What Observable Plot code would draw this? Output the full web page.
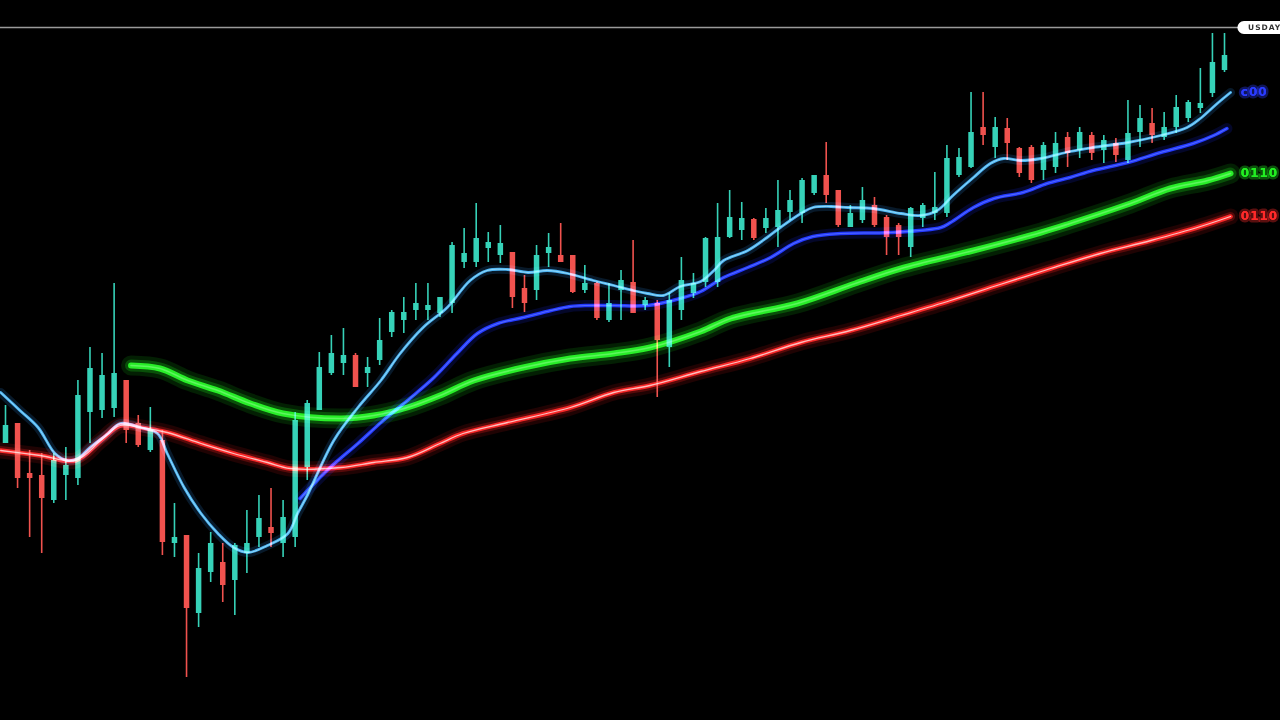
<!DOCTYPE html>
<html><head><meta charset="utf-8">
<script src="https://cdn.jsdelivr.net/npm/d3@7"></script>
<script src="https://cdn.jsdelivr.net/npm/@observablehq/plot@0.6"></script>
<style>html,body{margin:0;padding:0;background:#000;overflow:hidden}#chart svg{display:block}</style>
</head><body><div id="chart"></div>
<script>
// Candle OHLC (price points), one per bar index 0..101
const open  = [277,297,247,245,220,245,242,308,310,312,340,297,270,280,177,185,107,148,158,140,167,183,193,177,183,253,310,347,357,365,347,360,388,400,410,410,407,417,458,458,472,465,468,432,430,467,465,465,430,437,400,430,438,415,417,373,410,427,438,438,483,490,501,492,493,508,507,527,545,530,493,500,515,503,495,473,502,507,507,545,553,593,573,592,572,573,550,553,583,570,585,570,577,560,588,597,583,593,602,612,627,650];
const high  = [315,297,270,267,267,273,340,373,367,437,340,305,313,290,217,185,167,188,177,177,210,225,232,220,308,320,368,385,392,367,363,402,410,423,437,437,423,478,492,517,488,495,468,445,475,487,497,465,455,438,437,450,480,423,420,427,463,447,483,517,530,518,502,512,540,530,542,545,578,530,515,533,523,505,497,513,517,548,575,572,628,628,603,602,573,575,578,588,588,593,588,585,582,620,615,612,608,625,620,652,687,687];
const low   = [277,232,183,167,217,220,235,277,302,303,277,273,268,165,163,43,93,138,118,105,147,173,173,163,173,240,310,345,345,333,333,355,383,387,400,400,403,407,452,453,458,457,412,408,420,453,458,427,427,400,398,400,407,410,323,353,400,422,433,433,482,480,480,487,473,500,497,525,517,493,493,497,493,465,465,463,493,500,503,543,552,575,562,560,543,537,540,547,553,562,560,557,558,557,573,577,580,587,598,607,623,648];
const close = [295,242,242,222,260,255,325,352,345,347,290,275,290,178,183,112,152,177,135,175,177,202,187,203,300,317,353,367,365,333,353,380,408,408,417,415,423,475,467,482,478,477,423,417,465,473,458,428,437,402,417,440,407,420,380,420,440,437,482,483,503,502,482,502,510,520,540,545,525,495,507,520,495,483,483,512,515,513,562,563,588,585,593,577,547,540,575,577,567,588,567,580,565,587,602,585,593,613,618,617,658,665];

// Moving averages: [bar index, price]
const fastMA = [[-0.4,328],[1.2,310],[2.7,293],[4.1,267],[5.1,260],[6.0,262],[7.0,273],[8.5,287],[9.5,297],[11.2,293],[12.6,287],[13.4,267],[14.8,233],[16.2,207],[17.6,187],[18.9,173],[20.1,168],[21.7,175],[23.4,187],[24.2,207],[25.0,225],[27.2,280],[29.2,313],[31.1,340],[32.7,367],[34.6,393],[36.6,413],[38.5,440],[39.9,450],[41.6,451],[43.3,448],[44.9,450],[46.6,447],[48.7,440],[50.4,435],[52.0,430],[53.2,427],[54.5,425],[55.9,434],[57.6,439],[58.7,450],[59.5,460],[61.5,470],[63.1,483],[64.2,493],[65.9,507],[66.9,513],[68.4,514],[69.8,513],[71.9,512],[74.2,507],[75.8,505],[77.2,510],[78.5,525],[80.2,543],[81.6,557],[82.7,562],[84.1,560],[85.8,562],[88.2,569],[90.1,573],[93.0,578],[95.7,585],[97.9,593],[99.0,602],[100.4,617],[101.5,628]];
const midMA = [[24.4,222],[26.9,253],[29.2,277],[31.3,300],[33.6,323],[35.5,343],[37.4,367],[39.1,387],[40.8,397],[42.9,403],[45.2,410],[46.8,414],[48.2,415],[50.4,415],[53.2,415],[55.9,422],[57.6,429],[59.5,443],[61.5,453],[63.4,463],[65.3,477],[66.9,484],[69.2,487],[73.3,488],[77.5,493],[78.3,498],[80.2,513],[81.9,522],[84.3,528],[86.3,537],[88.2,543],[90.1,550],[93.0,558],[95.7,568],[98.4,577],[100.1,585],[101.2,592]];
const slowMA = [[10.4,355],[12.8,352],[15.1,340],[17.6,330],[20.3,317],[23.0,307],[27.8,302],[30.5,305],[33.3,313],[36.0,325],[38.8,340],[42.9,353],[46.8,362],[50.4,367],[53.4,373],[57.6,389],[60.1,402],[65.6,417],[70.4,437],[74.2,452],[80.2,470],[85.8,488],[88.2,497],[93.2,517],[96.5,532],[99.6,540],[101.5,547]];
const longMA = [[-0.4,270],[2.9,265],[5.8,260],[7.9,280],[9.5,295],[11.2,293],[13.4,288],[16.2,277],[18.9,267],[21.7,258],[23.6,252],[27.8,253],[30.5,258],[33.3,263],[36.0,277],[37.9,287],[41.6,298],[46.8,313],[50.4,328],[53.4,335],[57.6,349],[61.7,362],[65.9,378],[70.0,390],[74.2,405],[78.3,420],[82.4,436],[86.6,452],[90.7,467],[94.9,480],[99.0,494],[101.5,504]];

// Right-hand price tags
const tagText  = ["USDAY", "c00", "0110", "0110"];
const tagPrice = [693, 628, 547, 504];
const tagColor = ["#333333", "#2a3cff", "#22ee22", "#ff2a2a"];
const topLine = 693;

const candles = open.map((o, i) => ({i, open: o, high: high[i], low: low[i], close: close[i], up: close[i] >= o}));
const TEAL = "#36d2b8", RED = "#f0524e";

function glow(data, layers) {
  return layers.map(l => Plot.line(data, {x: d => d[0], y: d => d[1], curve: "catmull-rom",
    stroke: l.c, strokeWidth: l.w, strokeOpacity: l.o, strokeLinecap: "round", mixBlendMode: "screen"}));
}

const tags = tagText.map((t, k) => ({t, p: tagPrice[k], c: tagColor[k], k}));
const lastIdx = candles.length - 1;

const chart = Plot.plot({
  width: 1280, height: 720,
  marginTop: 0, marginBottom: 0, marginLeft: 0, marginRight: 0,
  style: {background: "#000", overflow: "hidden"},
  x: {domain: [0, 101], range: [5, 1224], axis: null},
  y: {domain: [0, 720], axis: null},
  marks: [
    Plot.ruleY([topLine], {stroke: "#9a9a9a", strokeWidth: 1.3}),
    // wicks
    Plot.ruleX(candles, {x: "i", y1: "low", y2: "high", stroke: d => d.up ? TEAL : RED, strokeWidth: 1.6}),
    // bodies
    Plot.ruleX(candles, {x: "i", y1: "open", y2: "close", stroke: d => d.up ? TEAL : RED, strokeWidth: 5.5}),
    // long (red) MA with glow
    ...glow(longMA, [{c: "#ff1a1a", w: 16, o: 0.12}, {c: "#ff1a1a", w: 9, o: 0.25}, {c: "#ff2020", w: 4.5, o: 0.95}, {c: "#ffd0d0", w: 1.3, o: 0.85}]),
    // slow (green) MA with glow
    ...glow(slowMA, [{c: "#1aff1a", w: 20, o: 0.12}, {c: "#1aff1a", w: 12, o: 0.22}, {c: "#20e620", w: 6, o: 1}, {c: "#8cff8c", w: 1.6, o: 0.45}]),
    // mid (blue) MA
    ...glow(midMA, [{c: "#1a2cff", w: 11, o: 0.16}, {c: "#1f33ff", w: 3.5, o: 1}, {c: "#5566ff", w: 1.1, o: 0.6}]),
    // fast (light blue) MA
    ...glow(fastMA, [{c: "#2f9cff", w: 9, o: 0.16}, {c: "#45aaf0", w: 2.8, o: 1}, {c: "#b8ecff", w: 0.9, o: 0.6}]),
    // top white pill
    Plot.ruleY([topLine], {x1: lastIdx + 1.65, x2: lastIdx + 8, stroke: "#ffffff", strokeWidth: 13, strokeLinecap: "round"}),
    // tag glows
    Plot.text(tags.filter(d => d.k > 0), {x: lastIdx + 1.35, y: "p", text: "t", textAnchor: "start", fill: "c", stroke: "c", strokeWidth: 5, strokeOpacity: 0.35, fontSize: 12, fontWeight: "bold", fontFamily: "DejaVu Sans"}),
    Plot.text(tags.filter(d => d.k > 0), {x: lastIdx + 1.35, y: "p", text: "t", textAnchor: "start", fill: "c", fontSize: 12, fontWeight: "bold", fontFamily: "DejaVu Sans"}),
    Plot.text(tags.filter(d => d.k === 0), {x: lastIdx + 1.95, y: "p", text: "t", textAnchor: "start", fill: "c", fontSize: 7.5, fontWeight: "bold", fontFamily: "DejaVu Sans"})
  ]
});
d3.select(chart).selectAll("text").attr("letter-spacing", "1px");
document.getElementById("chart").appendChild(chart);
</script>
</body></html>
